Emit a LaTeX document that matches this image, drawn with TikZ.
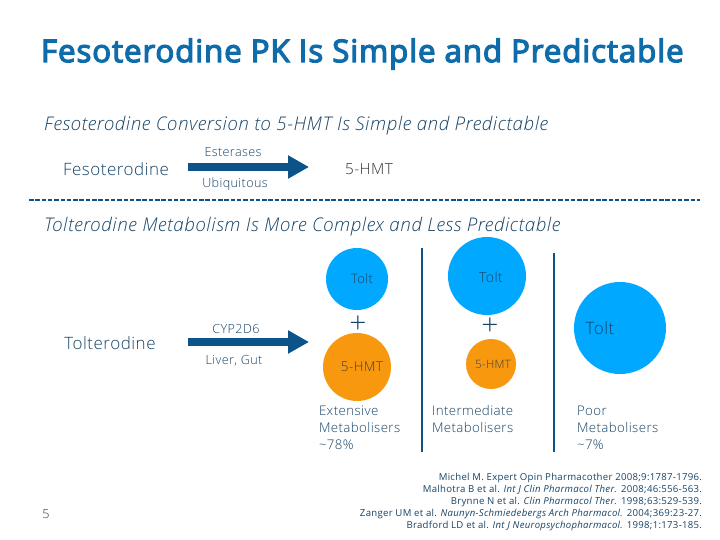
\documentclass[tikz,border=0pt]{standalone}
\usepackage{fontspec}
\setmainfont{Open Sans}
\newfontfamily\wide{Open Sans}[LetterSpace=3]
\newfontfamily\semi{Open Sans}[LetterSpace=3,FakeBold=4]
\newfontfamily\lite{Open Sans Light}[LetterSpace=3,ItalicFont=Open Sans Light Italic]
\usetikzlibrary{arrows.meta}
\definecolor{titleblue}{HTML}{0F6CAB}
\definecolor{txt}{HTML}{174467}
\definecolor{deep}{HTML}{0B5388}
\definecolor{sky}{HTML}{00A8FF}
\definecolor{amber}{HTML}{F7980F}
\newcommand{\firstln}{\rule{0pt}{12pt}}
\tikzset{
 every node/.style={inner sep=0pt,outer sep=0pt,text=txt,font=\lite\fontsize{12}{15}\selectfont},
 sub/.style={anchor=west,font=\lite\itshape\fontsize{18.8}{22}\selectfont},
 big/.style={font=\lite\fontsize{17}{20}\selectfont},
 lab/.style={font=\lite\fontsize{12.6}{15}\selectfont},
 blob/.style={circle,minimum size=#1,fill=sky},
 orb/.style={circle,minimum size=#1,fill=amber},
 flow/.style={draw=deep,line width=8pt,-{Triangle[length=21pt,width=22pt]}},
 divider/.style={draw=deep,line width=2pt},
 plus/.style={font=\lite\fontsize{30}{30}\selectfont},
 pct/.style={anchor=north west,align=left,font=\lite\fontsize{13.3}{17}\selectfont},
 ref/.style={anchor=north east,align=right,font=\wide\fontsize{9.6}{12}\selectfont}
}
\begin{document}
\begin{tikzpicture}[x=1pt,y=-1pt]
\useasboundingbox (0,0) rectangle (720,540);
\fill[white] (0,0) rectangle (720,540);
\node[anchor=west,text=titleblue,font=\semi\fontsize{31.2}{33}\selectfont] (title) at (41,54) {Fesoterodine PK Is Simple and Predictable};
\node[sub] (s1) at (44,126) {Fesoterodine Conversion to 5-HMT Is Simple and Predictable};
\node[big] (feso) at (116,169) {Fesoterodine};
\node[lab] (est) at (233,152) {Esterases};
\node[lab] (ubi) at (235,184) {Ubiquitous};
\node[text=black!80,font=\lite\fontsize{15.3}{18}\selectfont] (hmt) at (369,169) {5-HMT};
\coordinate (a1) at (188,167); \coordinate (a2) at (309,167);
\draw[flow] (a1) -- (a2);
\coordinate (d1) at (29,200); \coordinate (d2) at (700,200);
\draw[deep,line width=1.2pt,dash pattern=on 4.5pt off 1.8pt] (d1) -- (d2);
\node[sub] (s2) at (44,227) {Tolterodine Metabolism Is More Complex and Less Predictable};
\node[big] (tolt) at (110,343) {Tolterodine};
\node[lab] (cyp) at (236,329) {CYP2D6};
\node[lab] (liv) at (234,361) {Liver, Gut};
\coordinate (b1) at (188,342); \coordinate (b2) at (309,342);
\draw[flow] (b1) -- (b2);
\node[blob=62pt] (c1) at (357,279) {}; \node[font=\lite\fontsize{13}{15}\selectfont] at (362,279) {Tolt};
\node[plus] (p1) at (358,325) {+};
\node[orb=68pt] (o1) at (357,367) {}; \node[text=black!75,font=\lite\fontsize{13.5}{15}\selectfont] at (362,367) {5-HMT};
\node[blob=78pt] (c2) at (487,276) {}; \node[font=\lite\fontsize{14}{15}\selectfont] at (491,277) {Tolt};
\node[plus] (p2) at (490,327) {+};
\node[orb=50pt] (o2) at (491,364) {}; \node[text=black!75,font=\lite\fontsize{11.5}{15}\selectfont] at (493,364) {5-HMT};
\node[blob=92pt] (c3) at (620,328) {}; \node[font=\lite\fontsize{17}{18}\selectfont] at (600,328) {Tolt};
\coordinate (l1) at (422,248); \coordinate (l2) at (422,452);
\coordinate (m1) at (554,253); \coordinate (m2) at (554,452);
\draw[divider] (l1) -- (l2);
\draw[divider] (m1) -- (m2);
\node[pct] (e) at (319,403) {\firstln Extensive\\Metabolisers\\\textasciitilde78\%};
\node[pct] (i) at (432,403) {\firstln Intermediate\\Metabolisers};
\node[pct] (q) at (577,403) {\firstln Poor\\Metabolisers\\\textasciitilde7\%};
\node[ref] (r) at (702,473) {Michel M. Expert Opin Pharmacother 2008;9:1787-1796.\\
Malhotra B et al. \textit{Int J Clin Pharmacol Ther.} 2008;46:556-563.\\
Brynne N et al. \textit{Clin Pharmacol Ther.} 1998;63:529-539.\\
Zanger UM et al. \textit{Naunyn-Schmiedebergs Arch Pharmacol.} 2004;369:23-27.\\
Bradford LD et al. \textit{Int J Neuropsychopharmacol.} 1998;1:173-185.};
\node[lab] (pg) at (46,514) {5};
\end{tikzpicture}
\end{document}
